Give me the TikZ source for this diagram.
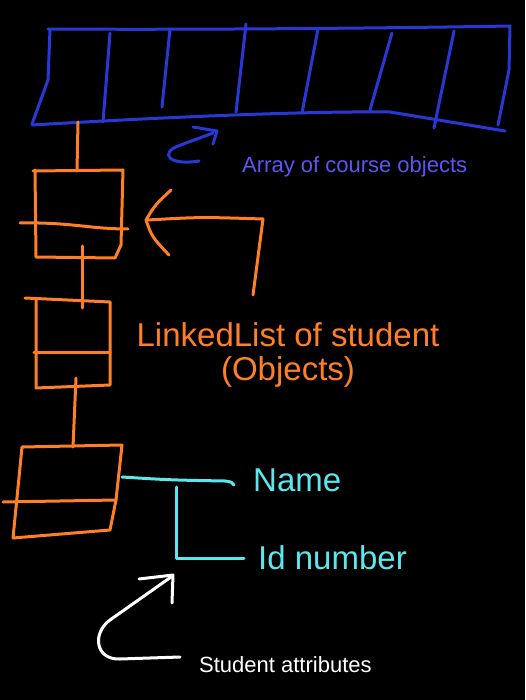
\documentclass[tikz,border=0pt]{standalone}
\usepackage{fontspec}
\setmainfont{Liberation Sans}
\definecolor{arrblue}{HTML}{2838D2}
\definecolor{arrtext}{HTML}{5B55F5}
\definecolor{ora}{HTML}{FF7F27}
\definecolor{cya}{HTML}{5CE6EE}
\begin{document}
\begin{tikzpicture}[x=1pt,y=-1pt,line cap=round,line join=round,
  pen/.style={line width=3pt},
  bluepen/.style={pen,draw=arrblue},
  orapen/.style={pen,draw=ora},
  cyapen/.style={pen,draw=cya},
  whitepen/.style={pen,draw=white},
  lbl/.style={inner sep=0pt,anchor=base west}]
\fill[black] (0,0) rectangle (525,700);
\useasboundingbox (0,0) rectangle (525,700);

% ---- array of courses ----
\draw[bluepen] (48,29) .. controls (200,30) and (400,28) .. (510,26)
  -- (509,70) -- (498,125);
\draw[bluepen] (50,30) -- (48,80) -- (32,124);
\draw[bluepen] (32,125) .. controls (150,118) and (300,111) .. (390,112) -- (505,131);
\draw[bluepen] (110,33) -- (103,122);
\draw[bluepen] (170,29) -- (162,107);
\draw[bluepen] (246,24) -- (236,112);
\draw[bluepen] (318,29) -- (302,113);
\draw[bluepen] (392,33) -- (370,110);
\draw[bluepen] (454,31) -- (434,128);
% small blue arrow
\draw[bluepen] (213,133) -- (178,146) .. controls (160,153) and (168,166) .. (199,161);
\draw[bluepen] (193,127) -- (217,131) -- (213,144);
\node[lbl,text=arrtext,font=\fontsize{22}{26}\selectfont] (arraylbl) at (242,173) {Array of course objects};

% ---- linked list ----
\coordinate (a0) at (78,122);
\coordinate (b1top) at (77,171);
\draw[orapen] (a0) -- (b1top);
% box 1
\draw[orapen] (33,171) -- (123,170);
\draw[orapen] (35,170) -- (36,257) -- (115,258) -- (121,245) -- (123,170);
\draw[orapen] (20,223) .. controls (70,222) and (90,229) .. (128,229);
% link 1-2
\coordinate (l1a) at (82,246);
\coordinate (l1b) at (82,308);
\draw[orapen] (l1a) -- (l1b);
% box 2
\draw[orapen] (25,298) -- (110,302);
\draw[orapen] (36,298) -- (36,388) -- (110,385) -- (110,302);
\draw[orapen] (34,352) -- (110,352);
% link 2-3
\coordinate (l2a) at (76,378);
\coordinate (l2b) at (73,447);
\draw[orapen] (l2a) -- (l2b);
% box 3
\draw[orapen] (22,447) -- (122,445) -- (116,500) -- (110,530) -- (13,538) -- (22,447);
\draw[orapen] (3,502) -- (116,500);
% orange arrow
\draw[orapen] (171,190) .. controls (155,205) .. (146,220) .. controls (152,237) .. (169,255);
\draw[orapen] (148,220) .. controls (200,217) .. (263,219) -- (253,295);
\node[inner sep=0pt,align=center,text=ora,font=\fontsize{33}{34}\selectfont] (lllbl) at (288,355) {LinkedList of student\\(Objects)};

% ---- attributes ----
\coordinate (c0) at (122,477);
\draw[cyapen] (c0) .. controls (170,480) .. (225,481) .. controls (232,482) .. (234,485);
\draw[cyapen] (176,487) -- (176,558) -- (244,558);
\node[lbl,text=cya,font=\fontsize{33}{36}\selectfont] (namelbl) at (253,491) {Name};
\node[lbl,text=cya,font=\fontsize{33}{36}\selectfont] (idlbl) at (258,569) {Id number};

% white arrow
\draw[whitepen] (139,579) -- (173,575) -- (172,603);
\draw[whitepen] (171,577) -- (110,620) .. controls (92,633) and (95,660) .. (120,659) -- (180,657);
\node[lbl,text=white,font=\fontsize{22}{26}\selectfont] (stulbl) at (199,672) {Student attributes};
\end{tikzpicture}
\end{document}
